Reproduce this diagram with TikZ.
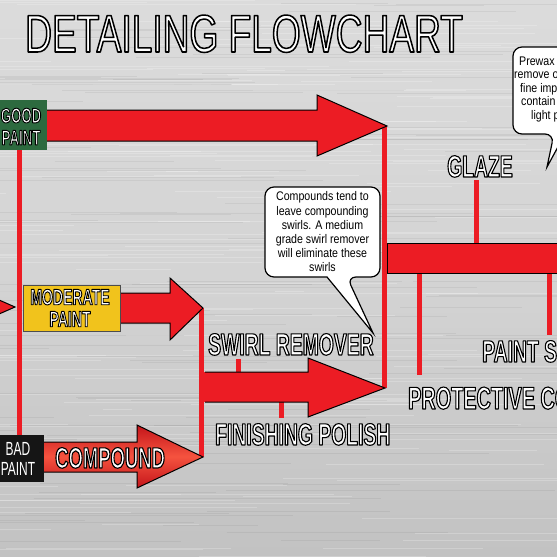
\documentclass[tikz,border=0pt]{standalone}
\usepackage{fontspec}
\setmainfont{Liberation Sans}
\newfontfamily\labfont[FakeStretch=0.63]{Liberation Sans}
\newfontfamily\titfont[FakeStretch=0.70]{Liberation Sans}
\newfontfamily\notefont[FakeStretch=0.85]{Liberation Sans}
\definecolor{bred}{HTML}{EC1C24}
\definecolor{dred}{HTML}{C4141A}
\definecolor{lred}{HTML}{F5533F}
\definecolor{bgreen}{HTML}{2D6A3F}
\definecolor{byellow}{HTML}{F1C31C}
\definecolor{bblack}{HTML}{151515}
% outlined text: white fill, black stroke (PDF text render mode 2)
\newcommand\outl[2][1.1]{\special{pdf:literal direct 0 0 0 RG #1 w 1 j 2 Tr}#2\special{pdf:literal direct 0 Tr}}
\tikzset{
  conn/.style={draw=bred, line width=5pt},
  arrowbody/.style={fill=bred, draw=black, line width=1pt, line join=miter},
  lab/.style={text=white, font=\labfont\bfseries\fontsize{30.7}{32}\selectfont, inner sep=0pt, anchor=base west},
  callout/.style={fill=white, draw=black, line width=1.2pt},
  note/.style={font=\notefont\fontsize{12.5}{14.2}\selectfont, inner sep=0pt, align=center},
  boxtext/.style={text=white, inner sep=0pt, align=center}
}
\begin{document}
\begin{tikzpicture}[x=1pt,y=-1pt]
\useasboundingbox (0,0) rectangle (557,557);
\clip (0,0) rectangle (557,557);
% brushed metal background
\shade[top color=black!14, bottom color=black!24, middle color=black!17] (0,0) rectangle (557,557);
\pgfmathsetseed{7}
\foreach \i in {1,...,160}{
  \pgfmathsetmacro\yy{rnd*557}
  \pgfmathsetmacro\xx{rnd*600-150}
  \pgfmathsetmacro\ll{80+rnd*300}
  \draw[white, opacity=0.22, line width=0.7pt] (\xx,\yy) -- ++(\ll,0);
}
\foreach \i in {1,...,120}{
  \pgfmathsetmacro\yy{rnd*557}
  \pgfmathsetmacro\xx{rnd*600-150}
  \pgfmathsetmacro\ll{80+rnd*300}
  \draw[black, opacity=0.05, line width=0.7pt] (\xx,\yy) -- ++(\ll,0);
}

% title
\node[inner sep=0pt, anchor=base west, text=white, font=\titfont\fontsize{53}{55}\selectfont] (title) at (25,52) {\outl[1.5]{DETAILING FLOWCHART}};

% coordinates
\coordinate (topTip) at (387,126);
\coordinate (modTip) at (203,308);
\coordinate (midTip) at (385,388);
\coordinate (cmpTip) at (203,457);

% connector lines
\coordinate (lTop) at (19,150);
\coordinate (lBot) at (19,436);
\draw[conn] (lTop) -- (lBot);
\draw[conn] (modTip -| 201,0) -- (cmpTip -| 201,0);
\draw[conn] (topTip -| 384,0) -- (midTip -| 384,0);
\coordinate (swT) at (238,359); \coordinate (swB) at (238,373);
\draw[conn] (swT) -- (swB);
\coordinate (fpT) at (281,401); \coordinate (fpB) at (281,418);
\draw[conn] (fpT) -- (fpB);
\coordinate (glT) at (476,180); \coordinate (glB) at (476,244);
\draw[conn] (glT) -- (glB);
\coordinate (pcT) at (419,272); \coordinate (pcB) at (419,375);
\draw[conn] (pcT) -- (pcB);
\coordinate (psT) at (549,272); \coordinate (psB) at (549,335);
\draw[conn] (psT) -- (psB);

% top arrow
\path[arrowbody] (40,141) -- (40,110) -- (317,110) -- (317,95) -- (topTip) -- (317,156) -- (317,141) -- cycle;
% right bar
\path[arrowbody] (387,243) rectangle (580,273);
% moderate arrow
\path[arrowbody] (115,323) -- (115,293) -- (170,293) -- (170,278) -- (modTip) -- (170,340) -- (170,323) -- cycle;
% small left arrow
\path[arrowbody] (-10,296) -- (15,307) -- (-10,318) -- cycle;
% middle arrow
\fill[bred] (203,372) -- (308,372) -- (308,358) -- (midTip) -- (308,417) -- (308,402) -- (203,402) -- cycle;
\draw[black, line width=1pt, line join=miter] (205,372) -- (308,372) -- (308,358) -- (midTip) -- (308,417) -- (308,402) -- (205,402);
% compound arrow
\path[draw=black, line width=1pt, line join=miter, top color=dred, bottom color=dred, middle color=lred]
  (40,472) -- (40,442) -- (137,442) -- (137,425) -- (cmpTip) -- (137,488) -- (137,472) -- cycle;

% boxes
\path[fill=bgreen] (-15,100) rectangle (47,150);
\node[boxtext, font=\labfont\bfseries\fontsize{21}{22}\selectfont] (good) at (21,126.5) {\outl[0.9]{GOOD}\\\outl[0.9]{PAINT}};
\path[fill=byellow, draw=black!70, line width=0.8pt] (23,285) rectangle (120,331);
\node[boxtext, font=\labfont\bfseries\fontsize{22.3}{22}\selectfont] (moderate) at (70,308) {\outl[0.9]{MODERATE}\\\outl[0.9]{PAINT}};
\path[fill=bblack] (-15,435) rectangle (44,482);
\node[boxtext, font=\labfont\fontsize{19}{20}\selectfont] (bad) at (18,458.5) {BAD\\PAINT};

% labels
\node[lab, font=\labfont\bfseries\fontsize{29.3}{30}\selectfont] (compound) at (55,468) {\outl{COMPOUND}};
\node[lab] (swirl) at (208,355) {\outl{SWIRL REMOVER}};
\node[lab] (finish) at (215,445) {\outl{FINISHING POLISH}};
\node[lab] (glaze) at (447,177) {\outl{GLAZE}};
\node[lab] (sealant) at (482,362) {\outl{PAINT SEALANT}};
\node[lab, font=\labfont\bfseries\fontsize{31.5}{32}\selectfont] (protect) at (408,409) {\outl{PROTECTIVE COATING}};

% callout 1
\path[callout] (347,277) -- (373,333) -- (327,277) [rounded corners=9pt] -- (265,277) -- (265,187) -- (380,187) -- (380,277) -- cycle;
\node[note] (note1) at (322.5,232) {Compounds tend to\\leave compounding\\swirls. A medium\\grade swirl remover\\will eliminate these\\swirls};

% callout 2
\path[callout] (554,134) -- (547,167) -- (565,134) [rounded corners=9pt] -- (620,134) -- (620,47) -- (513,47) -- (513,134) -- cycle;
\node[note, anchor=base west] (n2a) at (519,65) {Prewax cleaners};
\node[note, anchor=base west] (n2b) at (514,78.5) {remove oxidation};
\node[note, anchor=base west] (n2c) at (520,92) {fine imperfections};
\node[note, anchor=base west] (n2d) at (521,105.5) {contain a};
\node[note, anchor=base west] (n2e) at (531,119) {light polish};
\end{tikzpicture}
\end{document}
